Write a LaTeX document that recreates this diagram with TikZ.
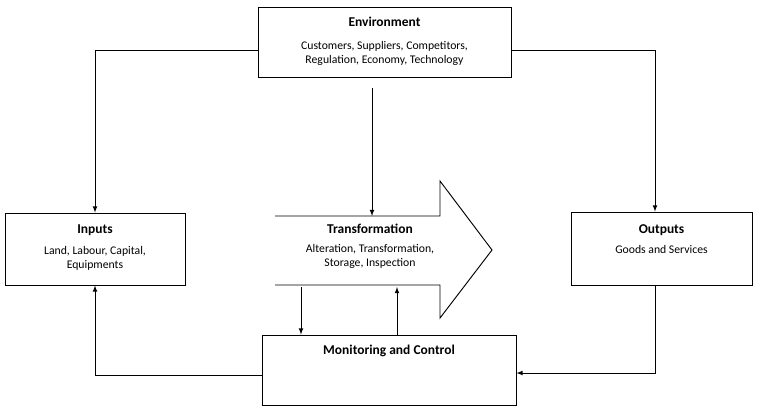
\documentclass[tikz,border=0pt]{standalone}
\usepackage{fontspec}
\setmainfont{Carlito}
\usetikzlibrary{shapes.arrows}
\begin{document}
\begin{tikzpicture}[x=0.03cm,y=-0.03cm,
	box/.style={draw,thick,rectangle,inner sep=0pt},
	conn/.style={thick,-latex},
	ttl/.style={font=\bfseries\fontsize{11.5}{13}\selectfont},
	txt/.style={font=\fontsize{10}{12}\selectfont,align=center}]
	\useasboundingbox (0,0) rectangle (769,410);
	%boxes
		\node[box,minimum width=253*0.03cm,minimum height=70*0.03cm] (env) at (384.5,42) {};
		\node[box,minimum width=180*0.03cm,minimum height=72*0.03cm] (in) at (95,249) {};
		\node[box,minimum width=181*0.03cm,minimum height=73*0.03cm] (out) at (661.5,248.5) {};
		\node[box,minimum width=254*0.03cm,minimum height=70*0.03cm] (mon) at (389,370) {};
	%transformation arrow
		\draw[thick] (275,216) -- (440,216) -- (440,181) -- (492,250) -- (440,318) -- (440,285) -- (275,285);
		\coordinate (trtop) at (372,216);
		\coordinate (trl) at (301,287);
		\coordinate (trr) at (397,287);
	%labels
		\node[ttl] at (384.5,22) {Environment};
		\node[txt] at (384.5,53) {Customers, Suppliers, Competitors,\\Regulation, Economy, Technology};
		\node[ttl] at (95,230) {Inputs};
		\node[txt] at (95,258) {Land, Labour, Capital,\\Equipments};
		\node[ttl] at (370,229) {Transformation};
		\node[txt] at (370,256) {Alteration, Transformation,\\Storage, Inspection};
		\node[ttl] at (661.5,230) {Outputs};
		\node[txt] at (661.5,249) {Goods and Services};
		\node[ttl] at (389,351) {Monitoring and Control};
	%connectors
		\draw[conn] (env.west |- 0,50) -| (in.north);
		\draw[conn] (env.east |- 0,50) -| (out.north -| 655,0);
		\draw[conn] (372,88) -- (trtop);
		\draw[conn] (trl) -- (trl |- mon.north);
		\draw[conn] (trr |- mon.north) -- (trr);
		\draw[conn] (out.south -| 655,0) |- (mon.east |- 0,373);
		\draw[conn] (mon.west |- 0,375) -| (in.south);
\end{tikzpicture}
\end{document}
